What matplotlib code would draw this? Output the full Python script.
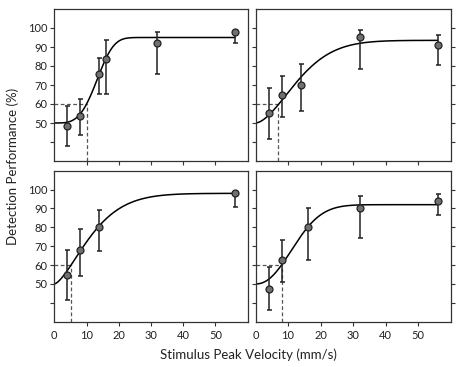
import numpy as np
import matplotlib
matplotlib.use("Agg")
import matplotlib.pyplot as plt

plt.rcParams['font.family'] = ['Lato', 'DejaVu Sans']

# stimulus peak velocities (mm/s) per panel
vel_tl = [4, 8, 14, 16, 32, 56]
vel_tr = [4, 8, 14, 32, 56]
vel_bl = [4, 8, 14, 56]
vel_br = [4, 8, 16, 32, 56]

# detection performance (%) and error bar limits
perf_tl = [48.2, 53.5, 76, 83.8, 92.3, 97.7]
lo_tl = [37.7, 43.8, 65.4, 65.4, 76, 92]
hi_tl = [59.1, 62.6, 84, 93.7, 98, 99.2]

perf_tr = [55, 64.7, 70, 95.4, 91.2]
lo_tr = [41.4, 53.2, 56.3, 78.4, 80.7]
hi_tr = [68.2, 74.7, 81, 99.1, 96.1]

perf_bl = [55, 68, 80, 98.2]
lo_bl = [41.4, 54.2, 67.3, 90.7]
hi_bl = [67.8, 79.3, 89, 99.5]

perf_br = [47.2, 62.9, 80, 90.2, 93.8]
lo_br = [36.1, 51, 62.7, 74.3, 86.4]
hi_br = [58.8, 73.2, 90.5, 96.7, 97.9]

# fitted psychometric (Weibull) parameters: upper asymptote, scale, shape
fit_tl = (95, 14.6, 3.66)
fit_tr = (93.5, 15.8, 1.7)
fit_bl = (98, 13.7, 1.5)
fit_br = (92, 14.44, 2.2)

# 60% detection thresholds (mm/s)
thr = [10.1, 7.0, 5.2, 8.0]

panels = [
    (vel_tl, perf_tl, lo_tl, hi_tl, fit_tl),
    (vel_tr, perf_tr, lo_tr, hi_tr, fit_tr),
    (vel_bl, perf_bl, lo_bl, hi_bl, fit_bl),
    (vel_br, perf_br, lo_br, hi_br, fit_br),
]


def weibull(x, upper, scale, shape):
    return 50 + (upper - 50) * (1 - np.exp(-(x / scale) ** shape))


fig = plt.figure(figsize=(4.74, 3.67), dpi=100)
W, H = 474, 367
boxes = [
    (54.3, 9, 193.4, 152),
    (255.5, 9, 195.2, 152),
    (54.3, 170.7, 193.4, 151),
    (255.5, 170.7, 195.2, 151),
]

spine_col = '#333333'
for i, ((vx, pf, lo, hi, fit), (bx, by, bw, bh)) in enumerate(zip(panels, boxes)):
    ax = fig.add_axes([bx / W, 1 - (by + bh) / H, bw / W, bh / H])
    ax.set_xlim(0, 60)
    ax.set_ylim(30, 110)

    xs = np.linspace(0, 56, 300)
    ax.plot(xs, weibull(xs, *fit), color='black', lw=1.1, zorder=2)

    t = thr[i]
    ax.plot([0, t], [60, 60], ls=(0, (3, 2)), color='#555555', lw=0.9, zorder=1)
    ax.plot([t, t], [30, 60], ls=(0, (3, 2)), color='#555555', lw=0.9, zorder=1)

    vx = np.array(vx)
    pf = np.array(pf)
    yerr = [pf - np.array(lo), np.array(hi) - pf]
    ax.errorbar(vx, pf, yerr=yerr, fmt='none', ecolor='#222222', elinewidth=1.1,
                capsize=1.8, capthick=1.1, zorder=3)
    ax.plot(vx, pf, 'o', ms=5, mfc='#707070', mec='#222222', mew=0.9, zorder=4)

    for s in ax.spines.values():
        s.set_color(spine_col)
        s.set_linewidth(0.9)

    ax.set_yticks([40, 50, 60, 70, 80, 90, 100])
    ax.set_xticks([10, 20, 30, 40, 50] if i < 2 else [0, 10, 20, 30, 40, 50])
    ax.tick_params(direction='out', length=3, width=0.8, color=spine_col,
                   labelsize=8, labelcolor='#222222', pad=2)

    if i % 2 == 0:
        ax.set_yticklabels(['', '50', '60', '70', '80', '90', '100'])
    else:
        ax.tick_params(axis='y', left=True, right=True, labelleft=False)
    if i < 2:
        ax.set_xticklabels([])
    else:
        ax.tick_params(axis='x', pad=3)
        ax.get_xticklines()[0].set_visible(False)

fig.text(248 / W, 1 - 355 / H, 'Stimulus Peak Velocity (mm/s)', ha='center', va='center',
         fontsize=9.5, color='#222222')
fig.text(13 / W, 1 - 166 / H, 'Detection Performance (%)', ha='center', va='center',
         rotation=90, fontsize=9.5, color='#222222')

fig.savefig('out.png', dpi=100)
